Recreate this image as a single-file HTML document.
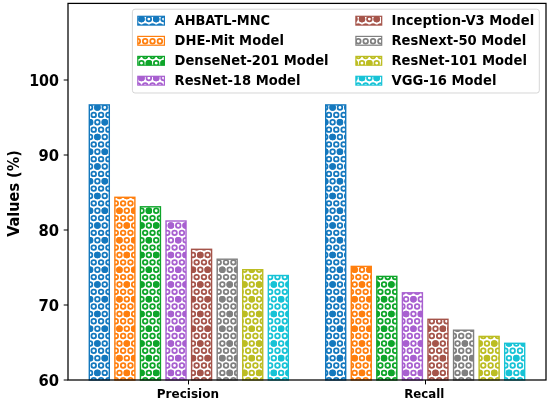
<!DOCTYPE html>
<html lang="en"><head><meta charset="utf-8"><title>Precision / Recall comparison</title>
<style>html,body{margin:0;padding:0;background:#fff}body{width:550px;height:402px;overflow:hidden}svg{display:block}text{font-family:"DejaVu Sans Condensed","DejaVu Sans","Liberation Sans",sans-serif;font-weight:bold;fill:#000}</style></head><body>
<svg width="550" height="402" viewBox="0 0 550 402">
<defs>
<g id="hatch" fill="none" stroke-linecap="round">
<g stroke="currentColor" stroke-width="6.40"><path d="M86.38 11.71H532" stroke-dasharray="0 7.350"/><path d="M82.70 19.08H532" stroke-dasharray="0 7.350"/><path d="M86.38 26.45H532" stroke-dasharray="0 7.350"/><path d="M82.70 33.82H532" stroke-dasharray="0 7.350"/><path d="M86.38 41.19H532" stroke-dasharray="0 7.350"/><path d="M82.70 48.57H532" stroke-dasharray="0 7.350"/><path d="M86.38 55.94H532" stroke-dasharray="0 7.350"/><path d="M82.70 63.31H532" stroke-dasharray="0 7.350"/><path d="M86.38 70.68H532" stroke-dasharray="0 7.350"/><path d="M82.70 78.05H532" stroke-dasharray="0 7.350"/><path d="M86.38 85.42H532" stroke-dasharray="0 7.350"/><path d="M82.70 92.80H532" stroke-dasharray="0 7.350"/><path d="M86.38 100.17H532" stroke-dasharray="0 7.350"/><path d="M82.70 107.54H532" stroke-dasharray="0 7.350"/><path d="M86.38 114.91H532" stroke-dasharray="0 7.350"/><path d="M82.70 122.28H532" stroke-dasharray="0 7.350"/><path d="M86.38 129.65H532" stroke-dasharray="0 7.350"/><path d="M82.70 137.02H532" stroke-dasharray="0 7.350"/><path d="M86.38 144.40H532" stroke-dasharray="0 7.350"/><path d="M82.70 151.77H532" stroke-dasharray="0 7.350"/><path d="M86.38 159.14H532" stroke-dasharray="0 7.350"/><path d="M82.70 166.51H532" stroke-dasharray="0 7.350"/><path d="M86.38 173.88H532" stroke-dasharray="0 7.350"/><path d="M82.70 181.25H532" stroke-dasharray="0 7.350"/><path d="M86.38 188.62H532" stroke-dasharray="0 7.350"/><path d="M82.70 196.00H532" stroke-dasharray="0 7.350"/><path d="M86.38 203.37H532" stroke-dasharray="0 7.350"/><path d="M82.70 210.74H532" stroke-dasharray="0 7.350"/><path d="M86.38 218.11H532" stroke-dasharray="0 7.350"/><path d="M82.70 225.48H532" stroke-dasharray="0 7.350"/><path d="M86.38 232.85H532" stroke-dasharray="0 7.350"/><path d="M82.70 240.23H532" stroke-dasharray="0 7.350"/><path d="M86.38 247.60H532" stroke-dasharray="0 7.350"/><path d="M82.70 254.97H532" stroke-dasharray="0 7.350"/><path d="M86.38 262.34H532" stroke-dasharray="0 7.350"/><path d="M82.70 269.71H532" stroke-dasharray="0 7.350"/><path d="M86.38 277.08H532" stroke-dasharray="0 7.350"/><path d="M82.70 284.45H532" stroke-dasharray="0 7.350"/><path d="M86.38 291.83H532" stroke-dasharray="0 7.350"/><path d="M82.70 299.20H532" stroke-dasharray="0 7.350"/><path d="M86.38 306.57H532" stroke-dasharray="0 7.350"/><path d="M82.70 313.94H532" stroke-dasharray="0 7.350"/><path d="M86.38 321.31H532" stroke-dasharray="0 7.350"/><path d="M82.70 328.68H532" stroke-dasharray="0 7.350"/><path d="M86.38 336.05H532" stroke-dasharray="0 7.350"/><path d="M82.70 343.43H532" stroke-dasharray="0 7.350"/><path d="M86.38 350.80H532" stroke-dasharray="0 7.350"/><path d="M82.70 358.17H532" stroke-dasharray="0 7.350"/><path d="M86.38 365.54H532" stroke-dasharray="0 7.350"/><path d="M82.70 372.91H532" stroke-dasharray="0 7.350"/><path d="M86.38 380.28H532" stroke-dasharray="0 7.350"/></g>
<g stroke="currentColor" stroke-width="6.60"><path d="M82.70 19.08H532" stroke-dasharray="0 14.700"/><path d="M90.05 33.82H532" stroke-dasharray="0 14.700"/><path d="M82.70 48.57H532" stroke-dasharray="0 14.700"/><path d="M90.05 63.31H532" stroke-dasharray="0 14.700"/><path d="M82.70 78.05H532" stroke-dasharray="0 14.700"/><path d="M90.05 92.80H532" stroke-dasharray="0 14.700"/><path d="M82.70 107.54H532" stroke-dasharray="0 14.700"/><path d="M90.05 122.28H532" stroke-dasharray="0 14.700"/><path d="M82.70 137.02H532" stroke-dasharray="0 14.700"/><path d="M90.05 151.77H532" stroke-dasharray="0 14.700"/><path d="M82.70 166.51H532" stroke-dasharray="0 14.700"/><path d="M90.05 181.25H532" stroke-dasharray="0 14.700"/><path d="M82.70 196.00H532" stroke-dasharray="0 14.700"/><path d="M90.05 210.74H532" stroke-dasharray="0 14.700"/><path d="M82.70 225.48H532" stroke-dasharray="0 14.700"/><path d="M90.05 240.23H532" stroke-dasharray="0 14.700"/><path d="M82.70 254.97H532" stroke-dasharray="0 14.700"/><path d="M90.05 269.71H532" stroke-dasharray="0 14.700"/><path d="M82.70 284.45H532" stroke-dasharray="0 14.700"/><path d="M90.05 299.20H532" stroke-dasharray="0 14.700"/><path d="M82.70 313.94H532" stroke-dasharray="0 14.700"/><path d="M90.05 328.68H532" stroke-dasharray="0 14.700"/><path d="M82.70 343.43H532" stroke-dasharray="0 14.700"/><path d="M90.05 358.17H532" stroke-dasharray="0 14.700"/><path d="M82.70 372.91H532" stroke-dasharray="0 14.700"/></g>
<g stroke="#fff" stroke-width="2.90"><path d="M86.38 11.71H532" stroke-dasharray="0 7.350"/><path d="M90.05 19.08H532" stroke-dasharray="0 14.700"/><path d="M86.38 26.45H532" stroke-dasharray="0 7.350"/><path d="M82.70 33.82H532" stroke-dasharray="0 14.700"/><path d="M86.38 41.19H532" stroke-dasharray="0 7.350"/><path d="M90.05 48.57H532" stroke-dasharray="0 14.700"/><path d="M86.38 55.94H532" stroke-dasharray="0 7.350"/><path d="M82.70 63.31H532" stroke-dasharray="0 14.700"/><path d="M86.38 70.68H532" stroke-dasharray="0 7.350"/><path d="M90.05 78.05H532" stroke-dasharray="0 14.700"/><path d="M86.38 85.42H532" stroke-dasharray="0 7.350"/><path d="M82.70 92.80H532" stroke-dasharray="0 14.700"/><path d="M86.38 100.17H532" stroke-dasharray="0 7.350"/><path d="M90.05 107.54H532" stroke-dasharray="0 14.700"/><path d="M86.38 114.91H532" stroke-dasharray="0 7.350"/><path d="M82.70 122.28H532" stroke-dasharray="0 14.700"/><path d="M86.38 129.65H532" stroke-dasharray="0 7.350"/><path d="M90.05 137.02H532" stroke-dasharray="0 14.700"/><path d="M86.38 144.40H532" stroke-dasharray="0 7.350"/><path d="M82.70 151.77H532" stroke-dasharray="0 14.700"/><path d="M86.38 159.14H532" stroke-dasharray="0 7.350"/><path d="M90.05 166.51H532" stroke-dasharray="0 14.700"/><path d="M86.38 173.88H532" stroke-dasharray="0 7.350"/><path d="M82.70 181.25H532" stroke-dasharray="0 14.700"/><path d="M86.38 188.62H532" stroke-dasharray="0 7.350"/><path d="M90.05 196.00H532" stroke-dasharray="0 14.700"/><path d="M86.38 203.37H532" stroke-dasharray="0 7.350"/><path d="M82.70 210.74H532" stroke-dasharray="0 14.700"/><path d="M86.38 218.11H532" stroke-dasharray="0 7.350"/><path d="M90.05 225.48H532" stroke-dasharray="0 14.700"/><path d="M86.38 232.85H532" stroke-dasharray="0 7.350"/><path d="M82.70 240.23H532" stroke-dasharray="0 14.700"/><path d="M86.38 247.60H532" stroke-dasharray="0 7.350"/><path d="M90.05 254.97H532" stroke-dasharray="0 14.700"/><path d="M86.38 262.34H532" stroke-dasharray="0 7.350"/><path d="M82.70 269.71H532" stroke-dasharray="0 14.700"/><path d="M86.38 277.08H532" stroke-dasharray="0 7.350"/><path d="M90.05 284.45H532" stroke-dasharray="0 14.700"/><path d="M86.38 291.83H532" stroke-dasharray="0 7.350"/><path d="M82.70 299.20H532" stroke-dasharray="0 14.700"/><path d="M86.38 306.57H532" stroke-dasharray="0 7.350"/><path d="M90.05 313.94H532" stroke-dasharray="0 14.700"/><path d="M86.38 321.31H532" stroke-dasharray="0 7.350"/><path d="M82.70 328.68H532" stroke-dasharray="0 14.700"/><path d="M86.38 336.05H532" stroke-dasharray="0 7.350"/><path d="M90.05 343.43H532" stroke-dasharray="0 14.700"/><path d="M86.38 350.80H532" stroke-dasharray="0 7.350"/><path d="M82.70 358.17H532" stroke-dasharray="0 14.700"/><path d="M86.38 365.54H532" stroke-dasharray="0 7.350"/><path d="M90.05 372.91H532" stroke-dasharray="0 14.700"/><path d="M86.38 380.28H532" stroke-dasharray="0 7.350"/></g>
</g>
<clipPath id="c0"><rect x="89.31" y="104.90" width="20.00" height="275.10"/><rect x="325.70" y="104.90" width="20.00" height="275.10"/><rect x="137.80" y="16.30" width="26.60" height="8.80"/></clipPath>
<clipPath id="c1"><rect x="114.88" y="197.30" width="20.00" height="182.70"/><rect x="351.27" y="266.40" width="20.00" height="113.60"/><rect x="137.80" y="36.40" width="26.60" height="8.80"/></clipPath>
<clipPath id="c2"><rect x="140.44" y="206.80" width="20.00" height="173.20"/><rect x="376.84" y="276.40" width="20.00" height="103.60"/><rect x="137.80" y="56.40" width="26.60" height="8.80"/></clipPath>
<clipPath id="c3"><rect x="166.02" y="221.00" width="20.00" height="159.00"/><rect x="402.41" y="292.80" width="20.00" height="87.20"/><rect x="137.80" y="76.30" width="26.60" height="8.80"/></clipPath>
<clipPath id="c4"><rect x="191.59" y="249.30" width="20.00" height="130.70"/><rect x="427.99" y="319.30" width="20.00" height="60.70"/><rect x="355.90" y="16.30" width="25.80" height="8.80"/></clipPath>
<clipPath id="c5"><rect x="217.16" y="259.20" width="20.00" height="120.80"/><rect x="453.56" y="330.20" width="20.00" height="49.80"/><rect x="355.90" y="36.40" width="25.80" height="8.80"/></clipPath>
<clipPath id="c6"><rect x="242.73" y="269.70" width="20.00" height="110.30"/><rect x="479.12" y="336.40" width="20.00" height="43.60"/><rect x="355.90" y="56.40" width="25.80" height="8.80"/></clipPath>
<clipPath id="c7"><rect x="268.30" y="275.50" width="20.00" height="104.50"/><rect x="504.69" y="343.30" width="20.00" height="36.70"/><rect x="355.90" y="76.30" width="25.80" height="8.80"/></clipPath>
</defs>
<rect width="550" height="402" fill="#fff"/>
<g style="color:#1478be" clip-path="url(#c0)"><use href="#hatch"/></g>
<g style="color:#ff7f0e" clip-path="url(#c1)"><use href="#hatch"/></g>
<g style="color:#0ea52a" clip-path="url(#c2)"><use href="#hatch"/></g>
<g style="color:#a860d0" clip-path="url(#c3)"><use href="#hatch"/></g>
<g style="color:#a5544a" clip-path="url(#c4)"><use href="#hatch"/></g>
<g style="color:#808080" clip-path="url(#c5)"><use href="#hatch"/></g>
<g style="color:#bcbd22" clip-path="url(#c6)"><use href="#hatch"/></g>
<g style="color:#17c3d6" clip-path="url(#c7)"><use href="#hatch"/></g>
<rect x="89.31" y="104.90" width="20.00" height="275.10" fill="none" stroke="#1478be" stroke-width="1.4"/>
<rect x="325.70" y="104.90" width="20.00" height="275.10" fill="none" stroke="#1478be" stroke-width="1.4"/>
<rect x="114.88" y="197.30" width="20.00" height="182.70" fill="none" stroke="#ff7f0e" stroke-width="1.4"/>
<rect x="351.27" y="266.40" width="20.00" height="113.60" fill="none" stroke="#ff7f0e" stroke-width="1.4"/>
<rect x="140.44" y="206.80" width="20.00" height="173.20" fill="none" stroke="#0ea52a" stroke-width="1.4"/>
<rect x="376.84" y="276.40" width="20.00" height="103.60" fill="none" stroke="#0ea52a" stroke-width="1.4"/>
<rect x="166.02" y="221.00" width="20.00" height="159.00" fill="none" stroke="#a860d0" stroke-width="1.4"/>
<rect x="402.41" y="292.80" width="20.00" height="87.20" fill="none" stroke="#a860d0" stroke-width="1.4"/>
<rect x="191.59" y="249.30" width="20.00" height="130.70" fill="none" stroke="#a5544a" stroke-width="1.4"/>
<rect x="427.99" y="319.30" width="20.00" height="60.70" fill="none" stroke="#a5544a" stroke-width="1.4"/>
<rect x="217.16" y="259.20" width="20.00" height="120.80" fill="none" stroke="#808080" stroke-width="1.4"/>
<rect x="453.56" y="330.20" width="20.00" height="49.80" fill="none" stroke="#808080" stroke-width="1.4"/>
<rect x="242.73" y="269.70" width="20.00" height="110.30" fill="none" stroke="#bcbd22" stroke-width="1.4"/>
<rect x="479.12" y="336.40" width="20.00" height="43.60" fill="none" stroke="#bcbd22" stroke-width="1.4"/>
<rect x="268.30" y="275.50" width="20.00" height="104.50" fill="none" stroke="#17c3d6" stroke-width="1.4"/>
<rect x="504.69" y="343.30" width="20.00" height="36.70" fill="none" stroke="#17c3d6" stroke-width="1.4"/>
<rect x="68.0" y="3.4" width="478.0" height="376.6" fill="none" stroke="#000" stroke-width="1.25"/>
<line x1="63.7" y1="380.0" x2="68.0" y2="380.0" stroke="#000" stroke-width="1"/>
<text x="59.0" y="386.0" font-size="15.8" text-anchor="end" textLength="20.57" lengthAdjust="spacingAndGlyphs">60</text>
<line x1="63.7" y1="305.0" x2="68.0" y2="305.0" stroke="#000" stroke-width="1"/>
<text x="59.0" y="311.0" font-size="15.8" text-anchor="end" textLength="20.57" lengthAdjust="spacingAndGlyphs">70</text>
<line x1="63.7" y1="230.0" x2="68.0" y2="230.0" stroke="#000" stroke-width="1"/>
<text x="59.0" y="236.0" font-size="15.8" text-anchor="end" textLength="20.57" lengthAdjust="spacingAndGlyphs">80</text>
<line x1="63.7" y1="155.0" x2="68.0" y2="155.0" stroke="#000" stroke-width="1"/>
<text x="59.0" y="161.0" font-size="15.8" text-anchor="end" textLength="20.57" lengthAdjust="spacingAndGlyphs">90</text>
<line x1="63.7" y1="80.0" x2="68.0" y2="80.0" stroke="#000" stroke-width="1"/>
<text x="59.0" y="86.0" font-size="15.8" text-anchor="end" textLength="29.82" lengthAdjust="spacingAndGlyphs">100</text>
<line x1="188.5" y1="380.0" x2="188.5" y2="384.4" stroke="#000" stroke-width="1"/>
<text x="187.9" y="398.3" font-size="12.6" text-anchor="middle" style="font-family:'DejaVu Sans','Liberation Sans',sans-serif" textLength="62.12" lengthAdjust="spacingAndGlyphs">Precision</text>
<line x1="425.5" y1="380.0" x2="425.5" y2="384.4" stroke="#000" stroke-width="1"/>
<text x="424.3" y="398.3" font-size="12.6" text-anchor="middle" style="font-family:'DejaVu Sans','Liberation Sans',sans-serif" textLength="40.14" lengthAdjust="spacingAndGlyphs">Recall</text>
<text transform="translate(19.4,193.5) rotate(-90)" font-size="16.1" text-anchor="middle" textLength="86.62" lengthAdjust="spacingAndGlyphs">Values (%)</text>
<rect x="132.4" y="9.2" width="406.9" height="83.8" rx="2.6" fill="none" stroke="#ccc" stroke-opacity="0.8" stroke-width="1"/>
<rect x="137.80" y="16.30" width="26.60" height="8.80" fill="none" stroke="#1478be" stroke-width="1.2"/>
<text x="174.6" y="24.8" font-size="14.55" textLength="95.49" lengthAdjust="spacingAndGlyphs">AHBATL-MNC</text>
<rect x="137.80" y="36.40" width="26.60" height="8.80" fill="none" stroke="#ff7f0e" stroke-width="1.2"/>
<text x="174.6" y="44.9" font-size="14.55" textLength="109.29" lengthAdjust="spacingAndGlyphs">DHE-Mit Model</text>
<rect x="137.80" y="56.40" width="26.60" height="8.80" fill="none" stroke="#0ea52a" stroke-width="1.2"/>
<text x="174.6" y="64.9" font-size="14.55" textLength="153.91" lengthAdjust="spacingAndGlyphs">DenseNet-201 Model</text>
<rect x="137.80" y="76.30" width="26.60" height="8.80" fill="none" stroke="#a860d0" stroke-width="1.2"/>
<text x="174.6" y="84.8" font-size="14.55" textLength="125.81" lengthAdjust="spacingAndGlyphs">ResNet-18 Model</text>
<rect x="355.90" y="16.30" width="25.80" height="8.80" fill="none" stroke="#a5544a" stroke-width="1.2"/>
<text x="391.5" y="24.8" font-size="14.6" textLength="142.67" lengthAdjust="spacingAndGlyphs">Inception-V3 Model</text>
<rect x="355.90" y="36.40" width="25.80" height="8.80" fill="none" stroke="#808080" stroke-width="1.2"/>
<text x="391.5" y="44.9" font-size="14.6" textLength="134.72" lengthAdjust="spacingAndGlyphs">ResNext-50 Model</text>
<rect x="355.90" y="56.40" width="25.80" height="8.80" fill="none" stroke="#bcbd22" stroke-width="1.2"/>
<text x="391.5" y="64.9" font-size="14.6" textLength="135.39" lengthAdjust="spacingAndGlyphs">ResNet-101 Model</text>
<rect x="355.90" y="76.30" width="25.80" height="8.80" fill="none" stroke="#17c3d6" stroke-width="1.2"/>
<text x="391.5" y="84.8" font-size="14.6" textLength="104.94" lengthAdjust="spacingAndGlyphs">VGG-16 Model</text>
</svg></body></html>
